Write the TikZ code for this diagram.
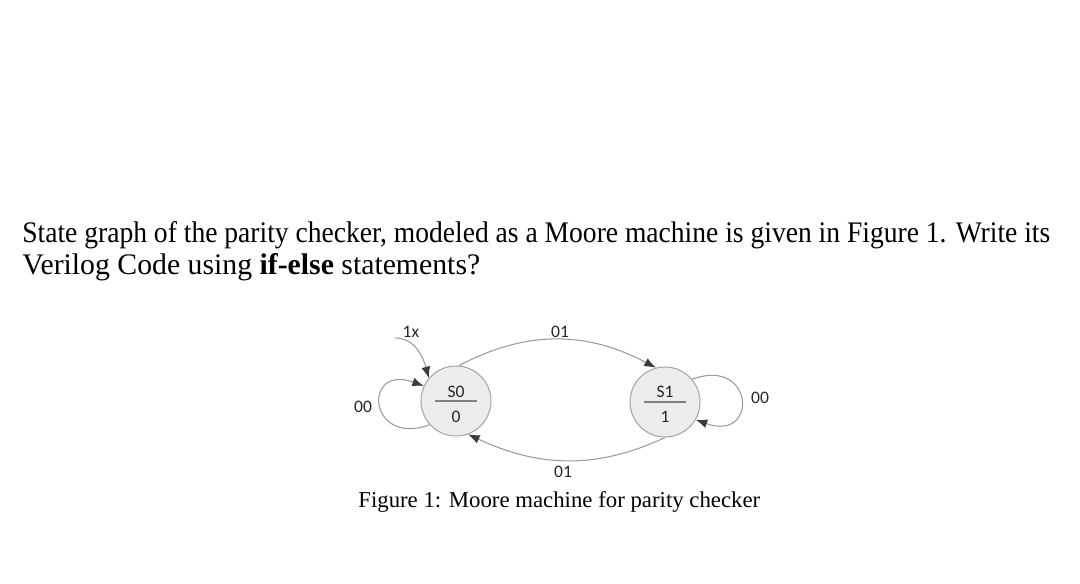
\documentclass[tikz,border=0pt]{standalone}
\usepackage{fontspec}
\setmainfont{Liberation Serif}
\newfontfamily\diagfont{Carlito}
\usepackage{graphicx}
\usetikzlibrary{arrows.meta}
\definecolor{ringgray}{HTML}{A6A6A6}
\definecolor{stategray}{HTML}{EDEDED}
\definecolor{wiregray}{HTML}{9A9A9A}
\definecolor{tipgray}{HTML}{3C3C3C}
\definecolor{labelgray}{HTML}{262626}
\tikzset{statenode/.style={circle,draw=ringgray,fill=stategray,line width=0.6pt,minimum size=1.4cm,inner sep=0pt}}
\tikzset{diaglabel/.style={inner sep=0pt,text=labelgray,font=\diagfont\fontsize{10}{11}\selectfont}}
\tikzset{wire/.style={draw=wiregray,line width=0.6pt,-{Latex[length=2.3mm,width=1.8mm,color=tipgray]}}}
\tikzset{divider/.style={draw=gray,line width=0.6pt}}
\tikzset{textline/.style={anchor=base west,inner sep=0pt,font=\fontsize{17}{20}\selectfont}}

\begin{document}
\begin{tikzpicture}[x=0.02cm,y=0.02cm]
\useasboundingbox (0,0) rectangle (1080,584);

% Question text above the figure
\node[textline] at (22,341) (questionA) {\resizebox{20.56cm}{\height}{State graph of the parity checker, modeled as a Moore machine is given in Figure 1. Write its}};
\node[textline] at (22,309) (questionB) {\resizebox{9.16cm}{\height}{Verilog Code using \textbf{if-else} statements?}};

% The two states S0 and S1
\node[statenode] at (456,183) (s0) {};
\node[statenode] at (665,182) (s1) {};

% Name over output inside each state
\node[diaglabel] at (456,192) (s0name) {S0};
\node[diaglabel] at (456,167) (s0out) {0};
\draw[divider] ([xshift=-0.42cm]s0.center) -- ([xshift=0.42cm]s0.center);
\node[diaglabel] at (665,192) (s1name) {S1};
\node[diaglabel] at (665,167) (s1out) {1};
\draw[divider] ([xshift=-0.42cm]s1.center) -- ([xshift=0.42cm]s1.center);

% Entry arrow into S0
\coordinate (entry) at (395,246);
\draw[wire] (entry) to[out=0,in=105] (s0.140);
\node[diaglabel] at (411,252) (entrylabel) {1x};

% Transitions between the states
\draw[wire] (s0.85) to[out=28,in=152] (s1.105);
\node[diaglabel] at (560,252) (toplabel) {01};
\draw[wire] (s1.270) to[out=205,in=-25] (s0.290);
\node[diaglabel] at (563,112) (bottomlabel) {01};

% Self loops on S0 and S1
\draw[wire] (s0.222) to[out=200,in=160,looseness=4.3] (s0.155);
\node[diaglabel] at (363,177) (s0looplabel) {00};
\draw[wire] (s1.40) to[out=20,in=-20,looseness=4.2] (s1.-30);
\node[diaglabel] at (760,186) (s1looplabel) {00};

% Caption under the figure
\node[anchor=base west,inner sep=0pt] at (358,76) (caption) {\resizebox{8.04cm}{\height}{\fontsize{12.9}{15}\selectfont Figure 1: Moore machine for parity checker}};

\end{tikzpicture}
\end{document}
